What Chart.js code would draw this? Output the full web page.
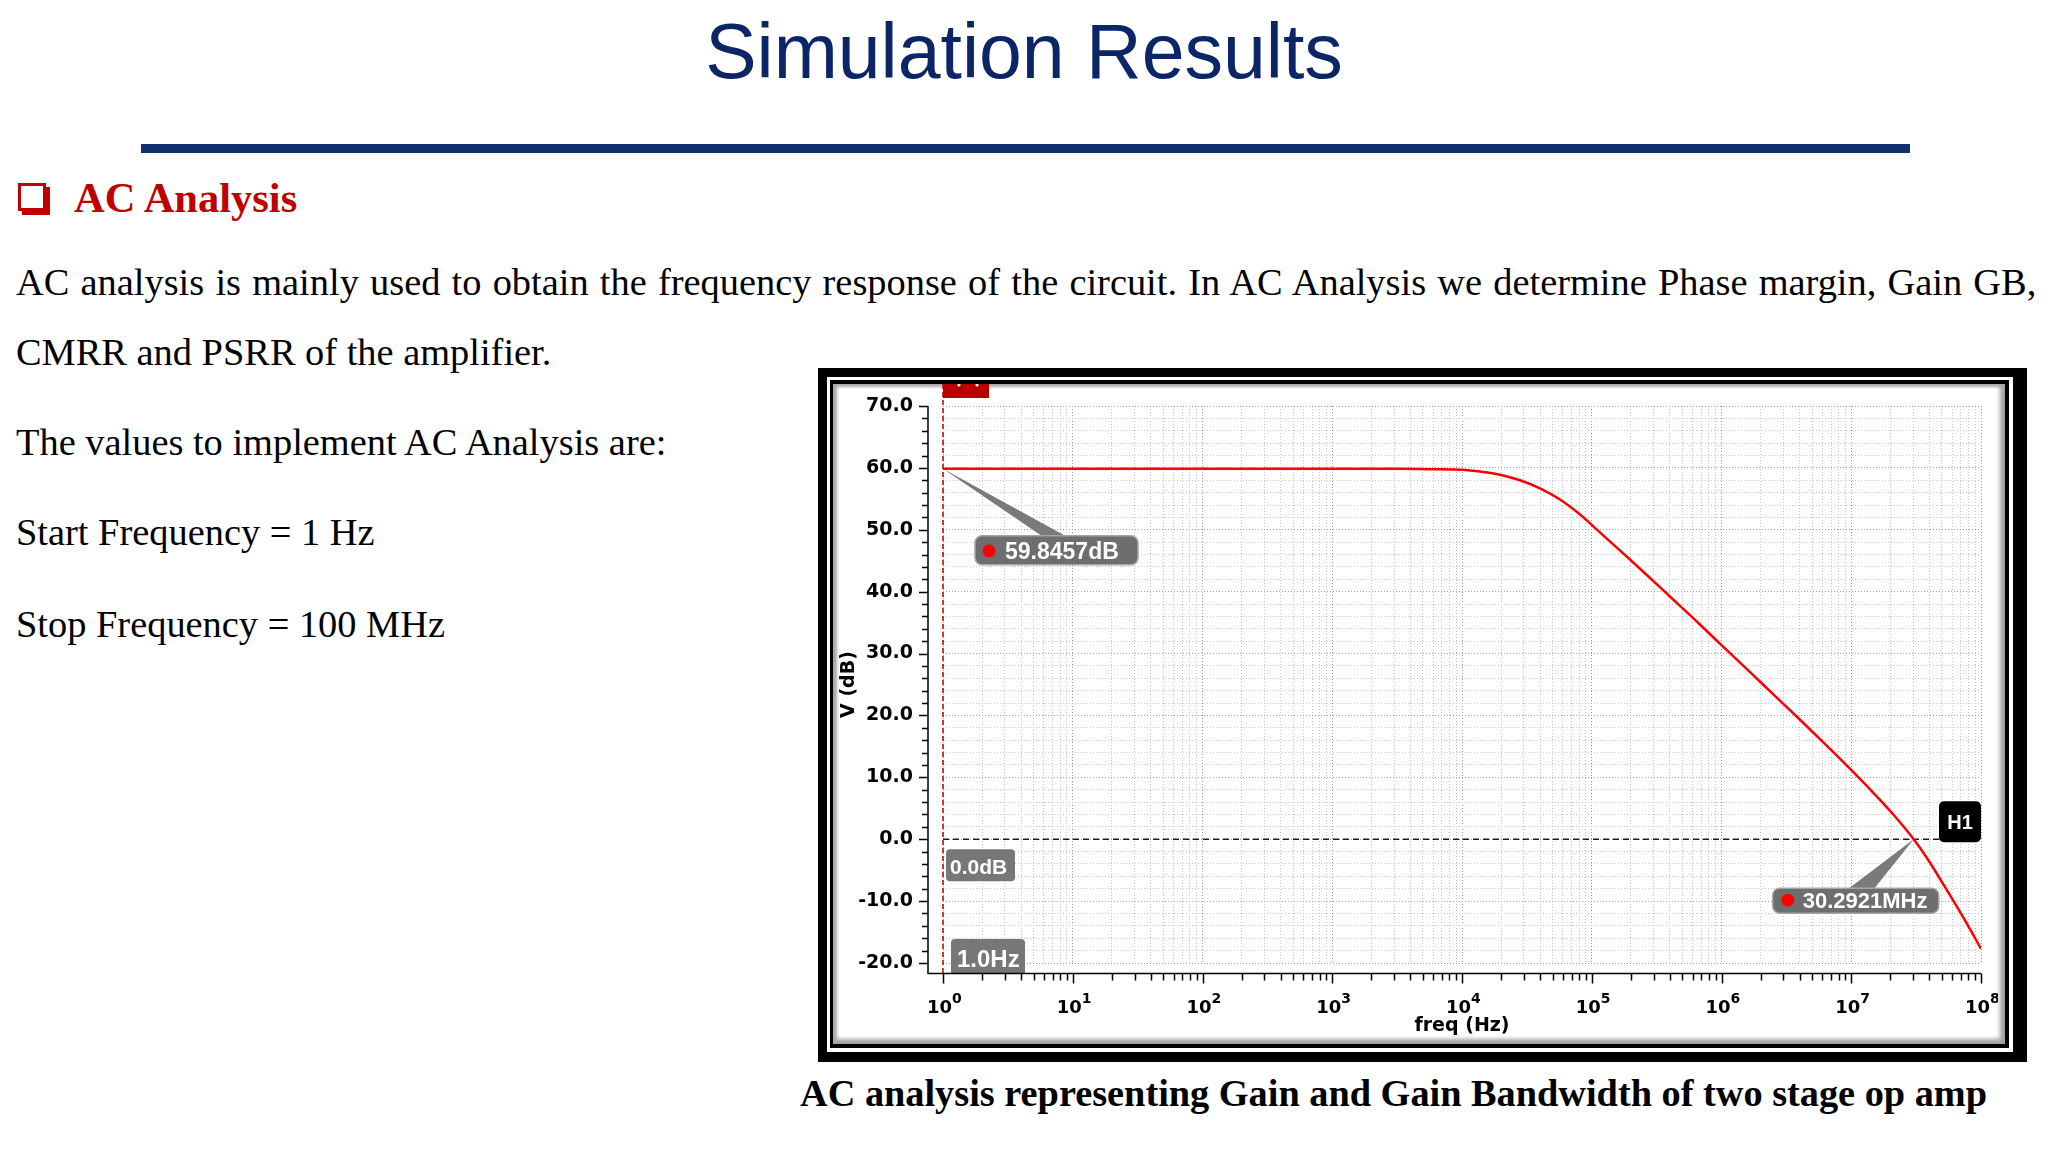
<!DOCTYPE html>
<html>
<head>
<meta charset="utf-8">
<title>Simulation Results</title>
<script src="https://cdn.jsdelivr.net/npm/chart.js@4.4.0/dist/chart.umd.min.js"></script>
<style>
    html, body { margin: 0; padding: 0; background: #fff; }
    body { width: 2048px; height: 1152px; position: relative; overflow: hidden; }
    .txt { position: absolute; white-space: nowrap; line-height: 1; }
    #title { left: 0; width: 2048px; top: 13px; text-align: center; font-family: 'Liberation Sans', Arial, sans-serif; font-size: 77px; color: #0b2566; }
    #rule { position: absolute; left: 141px; top: 144px; width: 1769px; height: 9px; background: #10306e; }
    #bullet { position: absolute; left: 18px; top: 183px; width: 22px; height: 22px; border: 3px solid #c00000; box-shadow: 4px 4px 0 #c00000; }
    #heading { left: 74px; top: 177px; font-family: 'Liberation Serif', serif; font-weight: bold; font-size: 42.5px; color: #c00000; }
    .body { left: 16px; font-family: 'Liberation Serif', serif; font-size: 38.4px; color: #000; }
    #line1 { word-spacing: 1.6px; }
    #caption { left: 800px; top: 1074px; font-family: 'Liberation Serif', serif; font-weight: bold; font-size: 38.3px; color: #000; }
    .frame { position: absolute; }
    #f1 { left: 818px; top: 368px; width: 1209px; height: 694px; background: #000; }
    #f2 { left: 827px; top: 377px; width: 1186px; height: 675px; background: #fff; }
    #f3 { left: 830px; top: 380px; width: 1179px; height: 668px; background: #000; }
    #f4 { left: 833px; top: 384px; width: 1172px; height: 660px; background: #fff;
          box-shadow: inset 5px 4px 3px -1px #a8a8a8, inset -7px -7px 4px -2px #a0a0a0; }
    #plot { position: absolute; left: 838px; top: 384px; }
</style>
</head>
<body>
<div id="title" class="txt">Simulation Results</div>
<div id="rule"></div>
<div id="bullet"></div>
<div id="heading" class="txt">AC Analysis</div>
<div id="line1" class="txt body" style="top:263px">AC analysis is mainly used to obtain the frequency response of the circuit. In AC Analysis we determine Phase margin, Gain GB,</div>
<div class="txt body" style="top:333px">CMRR and PSRR of the amplifier.</div>
<div class="txt body" style="top:423px">The values to implement AC Analysis are:</div>
<div class="txt body" style="top:513px">Start Frequency = 1 Hz</div>
<div class="txt body" style="top:605px">Stop Frequency = 100 MHz</div>

<div id="f1" class="frame"></div>
<div id="f2" class="frame"></div>
<div id="f3" class="frame"></div>
<div id="f4" class="frame"></div>
<canvas id="plot" width="1160" height="653"></canvas>

<div id="caption" class="txt">AC analysis representing Gain and Gain Bandwidth of two stage op amp</div>

<script>
// ========== DATA ==========
const freqHz = [1, 10, 100, 1e3, 3.33e3, 6.01e3, 1.0e4, 1.38e4, 1.96e4, 2.80e4, 3.99e4, 5.69e4, 7.66e4,
    1.0e5, 1.30e5, 1.97e5, 2.99e5, 4.52e5, 6.82e5, 9.72e5, 1.66e6, 2.51e6, 4.03e6, 6.86e6, 9.77e6,
    1.48e7, 2.11e7, 3.03e7, 3.82e7, 5.45e7, 7.76e7, 1.0e8];
const gainDb = [59.85, 59.85, 59.85, 59.85, 59.85, 59.8, 59.7, 59.4, 58.9, 58.0, 56.7, 54.9, 52.9,
    50.8, 48.6, 45.2, 41.7, 38.2, 34.7, 31.6, 27.0, 23.4, 19.3, 14.6, 11.4,
    7.5, 4.0, 0.0, -3.0, -8.2, -13.6, -17.7];

const xDecadeExp = [0, 1, 2, 3, 4, 5, 6, 7, 8];
const yTickValues = [-20, -10, 0, 10, 20, 30, 40, 50, 60, 70];

const markerGain = { freq: 1, db: 59.8457, label: '59.8457dB' };
const markerUgf = { freq: 30.2921e6, db: 0, label: '30.2921MHz' };
const markerLevelLabel = '0.0dB';
const markerFreqLabel = '1.0Hz';
const hMarkerName = 'H1';

// minor log ticks 1..9 per decade
const xTickValues = [];
xDecadeExp.forEach(e => {
    if (e === xDecadeExp[xDecadeExp.length - 1]) { xTickValues.push(Math.pow(10, e)); return; }
    for (let m = 1; m <= 9; m++) xTickValues.push(m * Math.pow(10, e));
});

function isDecade(v) {
    const l = Math.log10(v);
    return Math.abs(l - Math.round(l)) < 1e-9;
}

function rrect(ctx, x, y, w, h, r) {
    ctx.beginPath();
    ctx.roundRect(x, y, w, h, r);
}

// scales keep a fixed box so the plot area lands where the original one is
function fixBox(size, key) {
    return s => {
        s[key] = size;
        s.paddingTop = 0; s.paddingBottom = 0;
        s.paddingLeft = 0; s.paddingRight = 0;
    };
}

const overlay = {
    id: 'overlay',
    beforeDatasetsDraw(chart) {
        const { ctx, chartArea: a, scales: { x, y } } = chart;
        const x1 = x.getPixelForValue(markerGain.freq);
        const y0 = y.getPixelForValue(0);
        ctx.save();
        // vertical marker at start frequency
        ctx.strokeStyle = '#c00000';
        ctx.lineWidth = 1.5;
        ctx.setLineDash([5, 3]);
        ctx.beginPath();
        ctx.moveTo(x1, a.top - 22);
        ctx.lineTo(x1, a.bottom + 10);
        ctx.stroke();
        // horizontal marker H1 at 0 dB
        ctx.strokeStyle = '#1a1a1a';
        ctx.setLineDash([6, 4]);
        ctx.beginPath();
        ctx.moveTo(x1, y0);
        ctx.lineTo(a.right - 42, y0);
        ctx.stroke();
        ctx.restore();
    },
    afterDatasetsDraw(chart) {
        const { ctx, chartArea: a, scales: { x, y } } = chart;
        ctx.save();
        ctx.textBaseline = 'alphabetic';
        ctx.textAlign = 'left';

        // callout 1: gain at 1 Hz
        let px = x.getPixelForValue(markerGain.freq);
        let py = y.getPixelForValue(markerGain.db);
        ctx.fillStyle = '#7a7a7a';
        ctx.beginPath();
        ctx.moveTo(px, py);
        ctx.lineTo(px + 100, py + 68);
        ctx.lineTo(px + 124, py + 68);
        ctx.closePath();
        ctx.fill();
        rrect(ctx, px + 32, py + 67, 163, 29, 7);
        ctx.fillStyle = '#6e6e6e';
        ctx.fill();
        ctx.strokeStyle = '#a5a5a5';
        ctx.lineWidth = 1.5;
        ctx.stroke();
        ctx.fillStyle = '#ff0000';
        ctx.beginPath();
        ctx.arc(px + 46, py + 82, 6.5, 0, Math.PI * 2);
        ctx.fill();
        ctx.fillStyle = '#fff';
        ctx.font = 'bold 23px "Liberation Sans", Arial, sans-serif';
        ctx.fillText(markerGain.label, px + 62, py + 90);

        // callout 2: unity gain frequency
        px = x.getPixelForValue(markerUgf.freq);
        py = y.getPixelForValue(markerUgf.db);
        ctx.fillStyle = '#7a7a7a';
        ctx.beginPath();
        ctx.moveTo(px, py);
        ctx.lineTo(px - 66, py + 50);
        ctx.lineTo(px - 40, py + 50);
        ctx.closePath();
        ctx.fill();
        rrect(ctx, px - 141, py + 49, 166, 25, 7);
        ctx.fillStyle = '#6e6e6e';
        ctx.fill();
        ctx.strokeStyle = '#a5a5a5';
        ctx.stroke();
        ctx.fillStyle = '#ff0000';
        ctx.beginPath();
        ctx.arc(px - 126, py + 61, 6.5, 0, Math.PI * 2);
        ctx.fill();
        ctx.fillStyle = '#fff';
        ctx.font = 'bold 22px "Liberation Sans", Arial, sans-serif';
        ctx.fillText(markerUgf.label, px - 111, py + 69);

        // H1 tag
        const y0 = y.getPixelForValue(0);
        rrect(ctx, a.right - 42, y0 - 38, 42, 41, 5);
        ctx.fillStyle = '#000';
        ctx.fill();
        ctx.fillStyle = '#fff';
        ctx.font = 'bold 20px "Liberation Sans", Arial, sans-serif';
        ctx.textAlign = 'center';
        ctx.fillText(hMarkerName, a.right - 21, y0 - 10);
        ctx.textAlign = 'left';

        // 0.0dB level tag
        const x1 = x.getPixelForValue(markerGain.freq);
        rrect(ctx, x1 + 3, y0 + 10, 69, 32, 4);
        ctx.fillStyle = '#777';
        ctx.fill();
        ctx.fillStyle = '#fff';
        ctx.font = 'bold 21px "Liberation Sans", Arial, sans-serif';
        ctx.fillText(markerLevelLabel, x1 + 7, y0 + 35);

        // 1.0Hz frequency tag
        rrect(ctx, x1 + 8, a.bottom - 24, 74, 34, [4, 4, 0, 0]);
        ctx.fillStyle = '#777';
        ctx.fill();
        ctx.fillStyle = '#fff';
        ctx.font = 'bold 24px "Liberation Sans", Arial, sans-serif';
        ctx.fillText(markerFreqLabel, x1 + 14, a.bottom + 4);

        // clipped marker tag at the top of the vertical marker
        ctx.fillStyle = '#b80000';
        ctx.fillRect(x1, a.top - 22, 46, 14);
        ctx.fillStyle = '#fff';
        ctx.beginPath();
        ctx.arc(x1 + 16, a.top - 21, 1.5, 0, Math.PI * 2);
        ctx.arc(x1 + 34, a.top - 21, 1.5, 0, Math.PI * 2);
        ctx.fill();
        ctx.restore();
    },
    afterDraw(chart) {
        const { ctx, chartArea: a, scales: { x, y } } = chart;
        const axX = a.left - 15;
        const axY = a.bottom + 10.5;
        ctx.save();
        ctx.strokeStyle = '#000';
        ctx.lineWidth = 1.5;
        ctx.setLineDash([]);
        ctx.beginPath();
        ctx.moveTo(axX, a.top);
        ctx.lineTo(axX, axY);
        ctx.lineTo(a.right, axY);
        // y ticks every 2 dB
        for (let v = y.min; v <= y.max; v += 2) {
            const py = Math.round(y.getPixelForValue(v)) + 0.5;
            ctx.moveTo(axX - (v % 10 === 0 ? 9 : 6), py);
            ctx.lineTo(axX, py);
        }
        // x ticks
        xTickValues.forEach(v => {
            const px = Math.round(x.getPixelForValue(v)) + 0.5;
            ctx.moveTo(px, axY);
            ctx.lineTo(px, axY + (isDecade(v) ? 10 : 7));
        });
        ctx.stroke();

        // x decade labels with superscript exponent
        ctx.fillStyle = '#000';
        xDecadeExp.forEach(e => {
            const px = x.getPixelForValue(Math.pow(10, e));
            ctx.font = 'bold 18px "DejaVu Sans", sans-serif';
            ctx.textAlign = 'right';
            ctx.fillText('10', px + 9, a.bottom + 50);
            ctx.font = 'bold 14px "DejaVu Sans", sans-serif';
            ctx.textAlign = 'left';
            ctx.fillText(String(e), px + 9, a.bottom + 40);
        });
        ctx.restore();
    }
};

const tickFont = { family: 'DejaVu Sans', weight: 'bold', size: 19 };

const chart = new Chart(document.getElementById('plot'), {
    type: 'line',
    data: {
        datasets: [{
            label: 'V (dB)',
            data: freqHz.map((f, i) => ({ x: f, y: gainDb[i] })),
            borderColor: '#ff0000',
            borderWidth: 2.5,
            pointRadius: 0,
            cubicInterpolationMode: 'monotone',
            fill: false
        }]
    },
    options: {
        responsive: false,
        animation: false,
        layout: { padding: { left: 0, right: 17, top: 22, bottom: 0 } },
        plugins: { legend: { display: false }, tooltip: { enabled: false } },
        scales: {
            x: {
                type: 'logarithmic',
                min: 1,
                max: 1e8,
                afterBuildTicks: s => { s.ticks = xTickValues.map(v => ({ value: v })); },
                afterFit: fixBox(74, 'height'),
                ticks: { display: false },
                grid: {
                    color: c => (c.tick && isDecade(c.tick.value)) ? '#979797' : '#c4c4c4',
                    lineWidth: 1,
                    drawTicks: false
                },
                border: { display: false, dash: [1, 2] },
                title: { display: true, text: 'freq (Hz)', color: '#000', font: tickFont, padding: 0 }
            },
            y: {
                min: -20,
                max: 70,
                afterFit: fixBox(105, 'width'),
                ticks: {
                    stepSize: 2,
                    autoSkip: false,
                    maxTicksLimit: 100,
                    padding: 30,
                    color: '#000',
                    font: tickFont,
                    callback: v => yTickValues.includes(v) ? v.toFixed(1) : ''
                },
                grid: {
                    color: c => (c.tick && c.tick.value % 10 === 0) ? '#a0a0a0' : '#c8c8c8',
                    lineWidth: 1,
                    drawTicks: false
                },
                border: { display: false, dash: [1, 2] },
                title: { display: true, text: 'V (dB)', color: '#000', font: tickFont, padding: 0 }
            }
        }
    },
    plugins: [overlay]
});
</script>
</body>
</html>
